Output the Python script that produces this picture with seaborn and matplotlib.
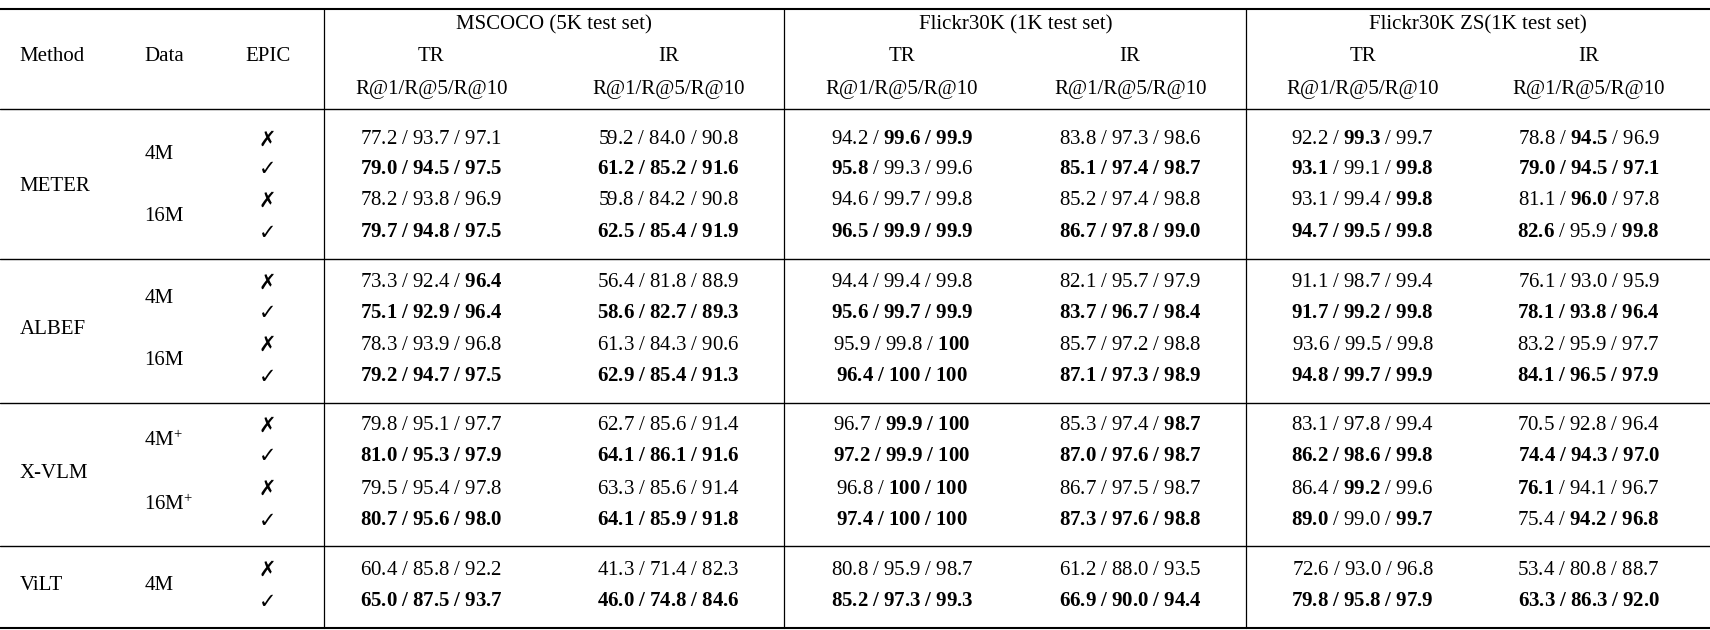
import matplotlib
matplotlib.use("Agg")
import matplotlib.pyplot as plt
import seaborn as sns

sns.set_theme(style="white")
plt.rcParams['font.family'] = ['Liberation Serif', 'DejaVu Sans']
plt.rcParams['text.color'] = 'black'
plt.rcParams['mathtext.fontset'] = 'custom'
plt.rcParams['mathtext.rm'] = 'Liberation Serif'
plt.rcParams['mathtext.bf'] = 'Liberation Serif:bold'
plt.rcParams['mathtext.it'] = 'Liberation Serif:italic'

groups = ["MSCOCO (5K test set)", "Flickr30K (1K test set)", "Flickr30K ZS(1K test set)"]
methods = ["METER", "ALBEF", "X-VLM", "ViLT"]
data_labels = [["4M", "16M"], ["4M", "16M"], ["4M$^{+}$", "16M$^{+}$"], ["4M"]]
epic = [0, 1, 0, 1, 0, 1, 0, 1, 0, 1, 0, 1, 0, 1]

values = [
 "77.2 93.7 97.1 59.2 84.0 90.8 94.2 99.6 99.9 83.8 97.3 98.6 92.2 99.3 99.7 78.8 94.5 96.9",
 "79.0 94.5 97.5 61.2 85.2 91.6 95.8 99.3 99.6 85.1 97.4 98.7 93.1 99.1 99.8 79.0 94.5 97.1",
 "78.2 93.8 96.9 59.8 84.2 90.8 94.6 99.7 99.8 85.2 97.4 98.8 93.1 99.4 99.8 81.1 96.0 97.8",
 "79.7 94.8 97.5 62.5 85.4 91.9 96.5 99.9 99.9 86.7 97.8 99.0 94.7 99.5 99.8 82.6 95.9 99.8",
 "73.3 92.4 96.4 56.4 81.8 88.9 94.4 99.4 99.8 82.1 95.7 97.9 91.1 98.7 99.4 76.1 93.0 95.9",
 "75.1 92.9 96.4 58.6 82.7 89.3 95.6 99.7 99.9 83.7 96.7 98.4 91.7 99.2 99.8 78.1 93.8 96.4",
 "78.3 93.9 96.8 61.3 84.3 90.6 95.9 99.8 100 85.7 97.2 98.8 93.6 99.5 99.8 83.2 95.9 97.7",
 "79.2 94.7 97.5 62.9 85.4 91.3 96.4 100 100 87.1 97.3 98.9 94.8 99.7 99.9 84.1 96.5 97.9",
 "79.8 95.1 97.7 62.7 85.6 91.4 96.7 99.9 100 85.3 97.4 98.7 83.1 97.8 99.4 70.5 92.8 96.4",
 "81.0 95.3 97.9 64.1 86.1 91.6 97.2 99.9 100 87.0 97.6 98.7 86.2 98.6 99.8 74.4 94.3 97.0",
 "79.5 95.4 97.8 63.3 85.6 91.4 96.8 100 100 86.7 97.5 98.7 86.4 99.2 99.6 76.1 94.1 96.7",
 "80.7 95.6 98.0 64.1 85.9 91.8 97.4 100 100 87.3 97.6 98.8 89.0 99.0 99.7 75.4 94.2 96.8",
 "60.4 85.8 92.2 41.3 71.4 82.3 80.8 95.9 98.7 61.2 88.0 93.5 72.6 93.0 96.8 53.4 80.8 88.7",
 "65.0 87.5 93.7 46.0 74.8 84.6 85.2 97.3 99.3 66.9 90.0 94.4 79.8 95.8 97.9 63.3 86.3 92.0",
]
bold = [
 "000000011000010010",
 "111111100111101111",
 "000000000000001010",
 "111111111111111101",
 "001000000000000000",
 "111111111111111111",
 "000000001000000000",
 "111111111111111111",
 "000000011001000000",
 "111111111111111111",
 "000000011000010100",
 "111111111111101011",
 "000000000000000000",
 "111111111111111111",
]

W, H = 1566, 630 * 1566 / 1710
fig = plt.figure(figsize=(17.1, 6.3), dpi=100)
ax = fig.add_axes([0, 0, 1, 1])
ax.set_xlim(0, W); ax.set_ylim(H, 0); ax.axis("off")
fs = 15

def hline(y, lw=1.2):
    ax.plot([0, W], [y, y], color="black", lw=lw)

hline(8, 1.5); hline(100, 1.0); hline(237, 1.0); hline(369, 1.0); hline(500, 1.0); hline(575, 1.5)
for x in [297, 718, 1141]:
    ax.plot([x, x], [8, 575], color="black", lw=0.9)

gc = [507, 930, 1353]
cols = [395, 612, 826, 1035, 1248, 1455]
for g, x in zip(groups, gc):
    ax.text(x, 23, g, ha="center", va="center", fontsize=fs)
for i, x in enumerate(cols):
    ax.text(x, 52, "TR" if i % 2 == 0 else "IR", ha="center", va="center", fontsize=fs)
    ax.text(x, 82, "R@1/R@5/R@10", ha="center", va="center", fontsize=fs)
ax.text(18, 52, "Method", ha="left", va="center", fontsize=fs)
ax.text(132, 52, "Data", ha="left", va="center", fontsize=fs)
ax.text(245, 52, "EPIC", ha="center", va="center", fontsize=fs)

row_y = [128, 155, 184, 213, 259, 287, 316, 345, 390, 418, 448, 477, 522, 551]
ri = 0
for m, dls in zip(methods, data_labels):
    ys = row_y[ri:ri + 2 * len(dls)]
    ax.text(18, (ys[0] + ys[-1]) / 2, m, ha="left", va="center", fontsize=fs)
    for k, d in enumerate(dls):
        ax.text(132, (ys[2 * k] + ys[2 * k + 1]) / 2, d, ha="left", va="center", fontsize=fs)
    ri += 2 * len(dls)

def cell(nums, flags):
    s = ""
    for j in range(3):
        n = nums[j]
        s += r"\mathbf{" + n + "}" if flags[j] else n
        if j < 2:
            sep = r"\ /\ "
            if flags[j] and flags[j + 1]:
                s += r"\mathbf{\ /\ }"
            else:
                s += sep
    return "$" + s + "$"

for r, (vals, bm) in enumerate(zip(values, bold)):
    y = row_y[r]
    ax.text(245, y, "✓" if epic[r] else "✗", ha="center", va="center",
            fontsize=fs, family="DejaVu Sans")
    v = vals.split()
    for c in range(6):
        nums = v[3 * c:3 * c + 3]
        flags = [bm[3 * c + j] == "1" for j in range(3)]
        ax.text(cols[c], y, cell(nums, flags), ha="center", va="center", fontsize=fs)

fig.savefig("out.png", dpi=100, facecolor="white")
